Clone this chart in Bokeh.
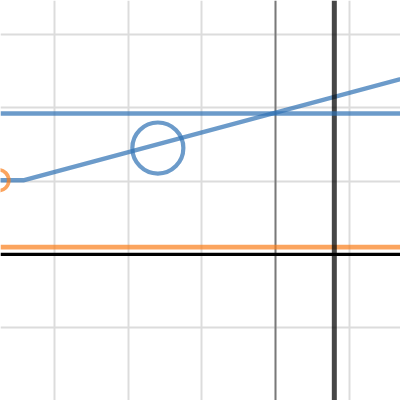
from bokeh.plotting import figure
from bokeh.models import Range1d, Span, FixedTicker
from bokeh.embed import file_html
from bokeh.resources import INLINE

# view window (graph units, 1 unit = one grid square)
x_view = [-3.74, 1.70]
y_view = [-1.99, 3.46]
grid_x = [-3, -2, -1, 0, 1]
grid_y = [-1, 0, 1, 2, 3]

# horizontal lines y = c
blue_level = 1.92
orange_level = 0.10
# vertical lines x = c
thin_vertical = 0.0
thick_vertical = 0.80

# piecewise blue curve
curve_x = [-3.80, -3.43, 2.00]
curve_y = [1.01, 1.01, 2.47]

# circles
blue_circle_x = [-1.60]
blue_circle_y = [1.45]
blue_circle_r = 0.347
orange_circle_x = [-3.77]
orange_circle_y = [1.01]
orange_circle_r = 0.143

BLUE = "#2d70b3"
ORANGE = "#fa7e19"

p = figure(width=400, height=400, output_backend="svg", toolbar_location=None,
           x_range=Range1d(*x_view), y_range=Range1d(*y_view), min_border=0)
p.outline_line_color = None
p.xaxis.visible = False
p.yaxis.visible = False
p.xgrid.ticker = FixedTicker(ticks=grid_x)
p.ygrid.ticker = FixedTicker(ticks=grid_y)
p.grid.grid_line_color = "#dcdcdc"
p.grid.grid_line_width = 2
p.grid.grid_line_alpha = 1

# x axis
p.add_layout(Span(location=0, dimension="width", line_color="black",
                  line_width=3.3, level="underlay"))
p.add_layout(Span(location=thin_vertical, dimension="height", line_color="black",
                  line_alpha=0.45, line_width=2, level="underlay"))

p.add_layout(Span(location=orange_level, dimension="width", line_color=ORANGE,
                  line_alpha=0.7, line_width=4.7, level="glyph"))
p.add_layout(Span(location=thick_vertical, dimension="height", line_color="black",
                  line_alpha=0.72, line_width=5, level="glyph"))
p.add_layout(Span(location=blue_level, dimension="width", line_color=BLUE,
                  line_alpha=0.7, line_width=4.5, level="glyph"))

p.line(curve_x, curve_y, line_color=BLUE, line_alpha=0.7, line_width=4.5)
p.circle(blue_circle_x, blue_circle_y, radius=blue_circle_r, fill_color=None,
         line_color=BLUE, line_alpha=0.7, line_width=4.2)
p.circle(orange_circle_x, orange_circle_y, radius=orange_circle_r, fill_color=None,
         line_color=ORANGE, line_alpha=0.7, line_width=3.7)

open("out.html", "w").write(file_html(p, INLINE))
